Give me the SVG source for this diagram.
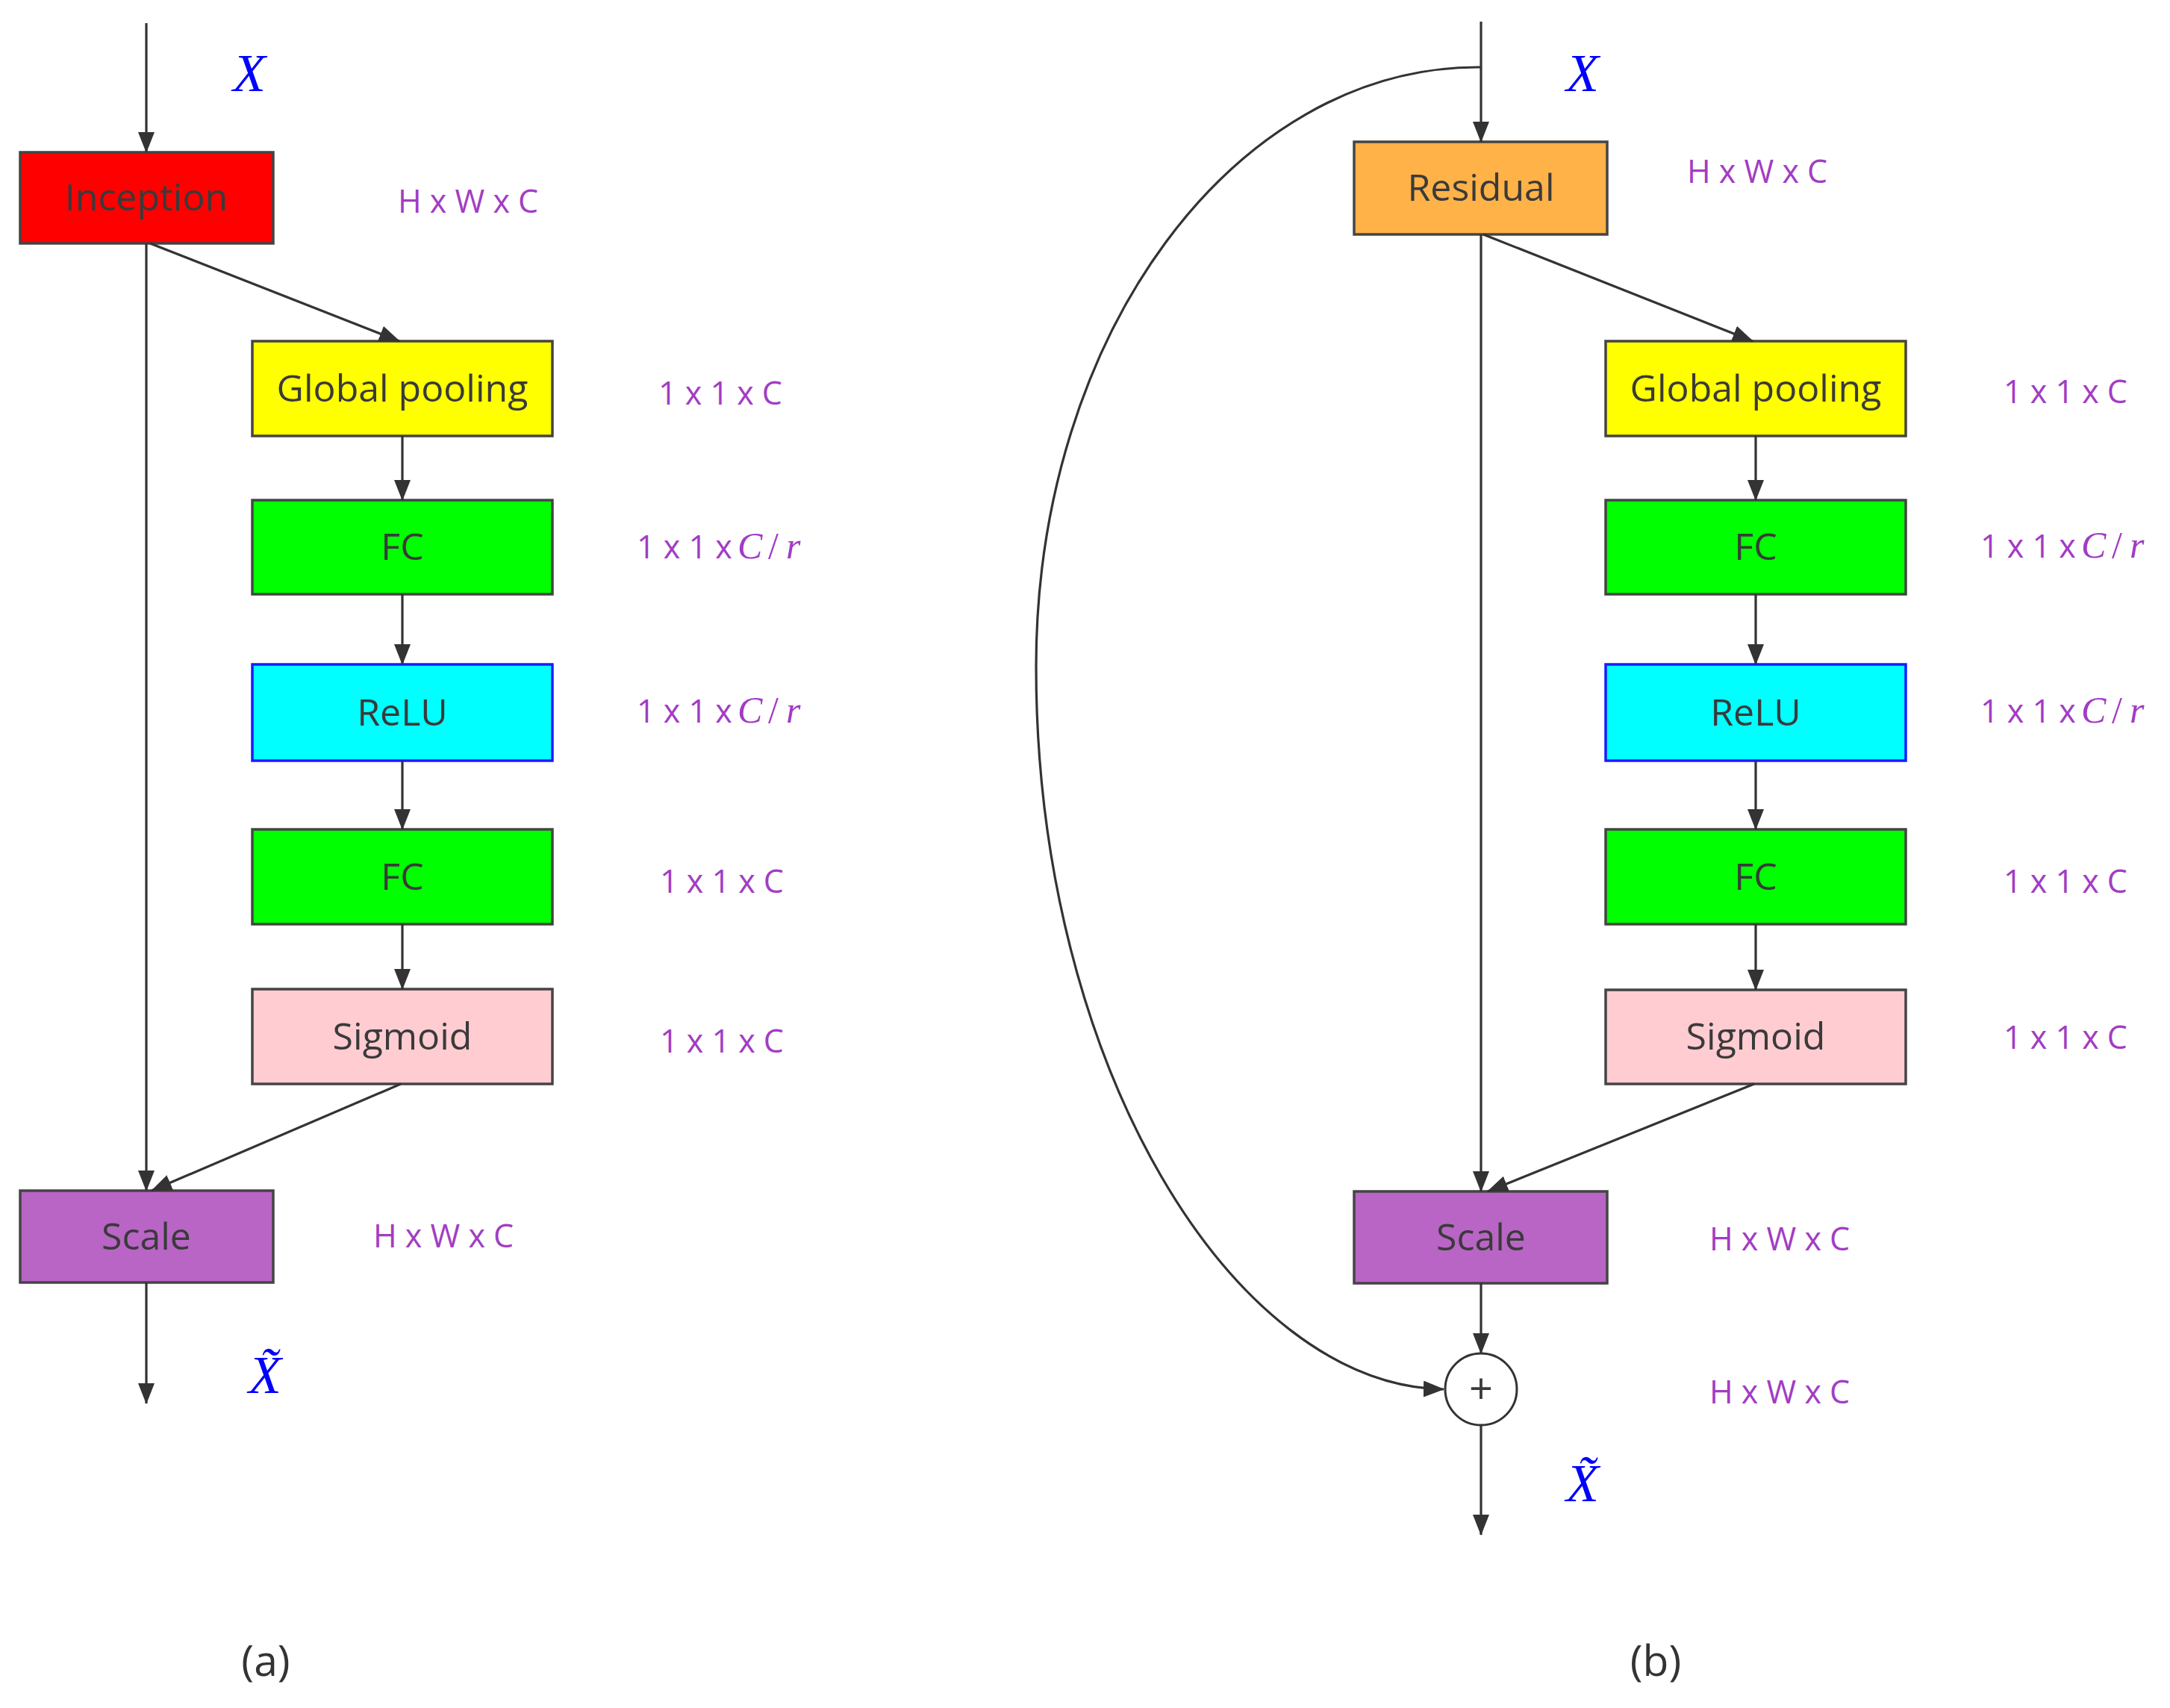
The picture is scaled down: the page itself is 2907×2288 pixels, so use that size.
<svg xmlns="http://www.w3.org/2000/svg" width="2907" height="2288" viewBox="0 0 2907 2288">
<defs>
<marker id="ah" markerWidth="28" markerHeight="22" refX="27" refY="11" orient="auto" markerUnits="userSpaceOnUse"><path d="M0,0 L28,11 L0,22 z" fill="#333"/></marker>
<style>
.box{stroke:#444;stroke-width:3.5}
.bt{font-family:"Open Sans","Noto Sans",sans-serif;font-size:50px;fill:#3a3a3a;text-anchor:middle}
.lb{font-family:"Open Sans","Noto Sans",sans-serif;font-size:43px;fill:#a23cc4}
.mi{font-family:"Liberation Serif",serif;font-style:italic;font-size:50px;fill:#a23cc4}
.mx{font-family:"Liberation Serif",serif;font-style:italic;font-size:72px;fill:#0000ff;text-anchor:middle}
.cap{font-family:"Open Sans","Noto Sans",sans-serif;font-size:57px;fill:#333;text-anchor:middle}
.ln{stroke:#333;stroke-width:3.2;fill:none}
</style>
</defs>
<rect width="2907" height="2288" fill="#fff"/>

<!-- (a) -->
<g id="a-inception"><rect class="box" x="27" y="204" width="339" height="122" fill="#ff0000"/><text class="bt" x="196" y="282">Inception</text></g>
<g id="a-gpool"><rect class="box" x="338" y="457" width="402" height="127" fill="#ffff00"/><text class="bt" x="539" y="538">Global pooling</text></g>
<g id="a-fc1"><rect class="box" x="338" y="670" width="402" height="126" fill="#00ff00"/><text class="bt" x="539" y="750">FC</text></g>
<g id="a-relu"><rect x="338" y="890" width="402" height="129" fill="#00ffff" stroke="#1a1aff" stroke-width="3.5"/><text class="bt" x="539" y="972">ReLU</text></g>
<g id="a-fc2"><rect class="box" x="338" y="1111" width="402" height="127" fill="#00ff00"/><text class="bt" x="539" y="1192">FC</text></g>
<g id="a-sigmoid"><rect class="box" x="338" y="1325" width="402" height="127" fill="#ffccd2"/><text class="bt" x="539" y="1406">Sigmoid</text></g>
<g id="a-scale"><rect class="box" x="27" y="1595" width="339" height="123" fill="#b865c5"/><text class="bt" x="196" y="1674">Scale</text></g>

<g id="a-labels">
<text class="mx" x="334" y="122">X</text>
<text class="lb" x="533" y="285">H x W x C</text>
<text class="lb" x="882" y="542">1 x 1 x C</text>
<text class="lb" x="853" y="748">1 x 1 x <tspan class="mi" x="988">C</tspan><tspan class="mi" x="1029" style="font-style:normal">/</tspan><tspan class="mi" x="1053">r</tspan></text>
<text class="lb" x="853" y="968">1 x 1 x <tspan class="mi" x="988">C</tspan><tspan class="mi" x="1029" style="font-style:normal">/</tspan><tspan class="mi" x="1053">r</tspan></text>
<text class="lb" x="884" y="1196">1 x 1 x C</text>
<text class="lb" x="884" y="1410">1 x 1 x C</text>
<text class="lb" x="500" y="1671">H x W x C</text>
<text class="mx" x="355" y="1866">X̃</text>
<text class="cap" x="356" y="2245">(a)</text>
</g>

<!-- (b) -->
<g id="b-residual"><rect class="box" x="1814" y="190" width="339" height="124" fill="#ffb248"/><text class="bt" x="1984" y="269">Residual</text></g>
<g id="b-gpool"><rect class="box" x="2151" y="457" width="402" height="127" fill="#ffff00"/><text class="bt" x="2352" y="538">Global pooling</text></g>
<g id="b-fc1"><rect class="box" x="2151" y="670" width="402" height="126" fill="#00ff00"/><text class="bt" x="2352" y="750">FC</text></g>
<g id="b-relu"><rect x="2151" y="890" width="402" height="129" fill="#00ffff" stroke="#1a1aff" stroke-width="3.5"/><text class="bt" x="2352" y="972">ReLU</text></g>
<g id="b-fc2"><rect class="box" x="2151" y="1111" width="402" height="127" fill="#00ff00"/><text class="bt" x="2352" y="1192">FC</text></g>
<g id="b-sigmoid"><rect class="box" x="2151" y="1326" width="402" height="126" fill="#ffccd2"/><text class="bt" x="2352" y="1406">Sigmoid</text></g>
<g id="b-scale"><rect class="box" x="1814" y="1596" width="339" height="123" fill="#b865c5"/><text class="bt" x="1984" y="1675">Scale</text></g>
<g id="b-add"><circle cx="1984" cy="1861" r="48" fill="#fff" stroke="#333" stroke-width="3"/><text class="bt" x="1984" y="1880" style="font-size:56px">+</text></g>

<g id="b-labels">
<text class="mx" x="2120" y="122">X</text>
<text class="lb" x="2260" y="245">H x W x C</text>
<text class="lb" x="2684" y="540">1 x 1 x C</text>
<text class="lb" x="2653" y="747">1 x 1 x <tspan class="mi" x="2788">C</tspan><tspan class="mi" x="2829" style="font-style:normal">/</tspan><tspan class="mi" x="2853">r</tspan></text>
<text class="lb" x="2653" y="968">1 x 1 x <tspan class="mi" x="2788">C</tspan><tspan class="mi" x="2829" style="font-style:normal">/</tspan><tspan class="mi" x="2853">r</tspan></text>
<text class="lb" x="2684" y="1196">1 x 1 x C</text>
<text class="lb" x="2684" y="1405">1 x 1 x C</text>
<text class="lb" x="2290" y="1675">H x W x C</text>
<text class="lb" x="2290" y="1880">H x W x C</text>
<text class="mx" x="2120" y="2011">X̃</text>
<text class="cap" x="2218" y="2245">(b)</text>
</g>

<g id="connectors">
<line class="ln" x1="196" y1="31" x2="196" y2="204" marker-end="url(#ah)"/>
<line class="ln" x1="201" y1="326" x2="535" y2="457" marker-end="url(#ah)"/>
<line class="ln" x1="196" y1="326" x2="196" y2="1595" marker-end="url(#ah)"/>
<line class="ln" x1="539" y1="584" x2="539" y2="670" marker-end="url(#ah)"/>
<line class="ln" x1="539" y1="796" x2="539" y2="890" marker-end="url(#ah)"/>
<line class="ln" x1="539" y1="1019" x2="539" y2="1111" marker-end="url(#ah)"/>
<line class="ln" x1="539" y1="1238" x2="539" y2="1325" marker-end="url(#ah)"/>
<line class="ln" x1="537" y1="1452" x2="203" y2="1595" marker-end="url(#ah)"/>
<line class="ln" x1="196" y1="1718" x2="196" y2="1880" marker-end="url(#ah)"/>

<line class="ln" x1="1984" y1="29" x2="1984" y2="190" marker-end="url(#ah)"/>
<path class="ln" d="M1984,90 L1980,90 C1653,90 1388,449 1388,893 C1388,1428 1653,1856 1934,1861" marker-end="url(#ah)"/>
<line class="ln" x1="1987" y1="314" x2="2348" y2="457" marker-end="url(#ah)"/>
<line class="ln" x1="1984" y1="314" x2="1984" y2="1596" marker-end="url(#ah)"/>
<line class="ln" x1="2352" y1="584" x2="2352" y2="670" marker-end="url(#ah)"/>
<line class="ln" x1="2352" y1="796" x2="2352" y2="890" marker-end="url(#ah)"/>
<line class="ln" x1="2352" y1="1019" x2="2352" y2="1111" marker-end="url(#ah)"/>
<line class="ln" x1="2352" y1="1238" x2="2352" y2="1326" marker-end="url(#ah)"/>
<line class="ln" x1="2350" y1="1452" x2="1993" y2="1596" marker-end="url(#ah)"/>
<line class="ln" x1="1984" y1="1719" x2="1984" y2="1813" marker-end="url(#ah)"/>
<line class="ln" x1="1984" y1="1909" x2="1984" y2="2056" marker-end="url(#ah)"/>
</g>
</svg>
